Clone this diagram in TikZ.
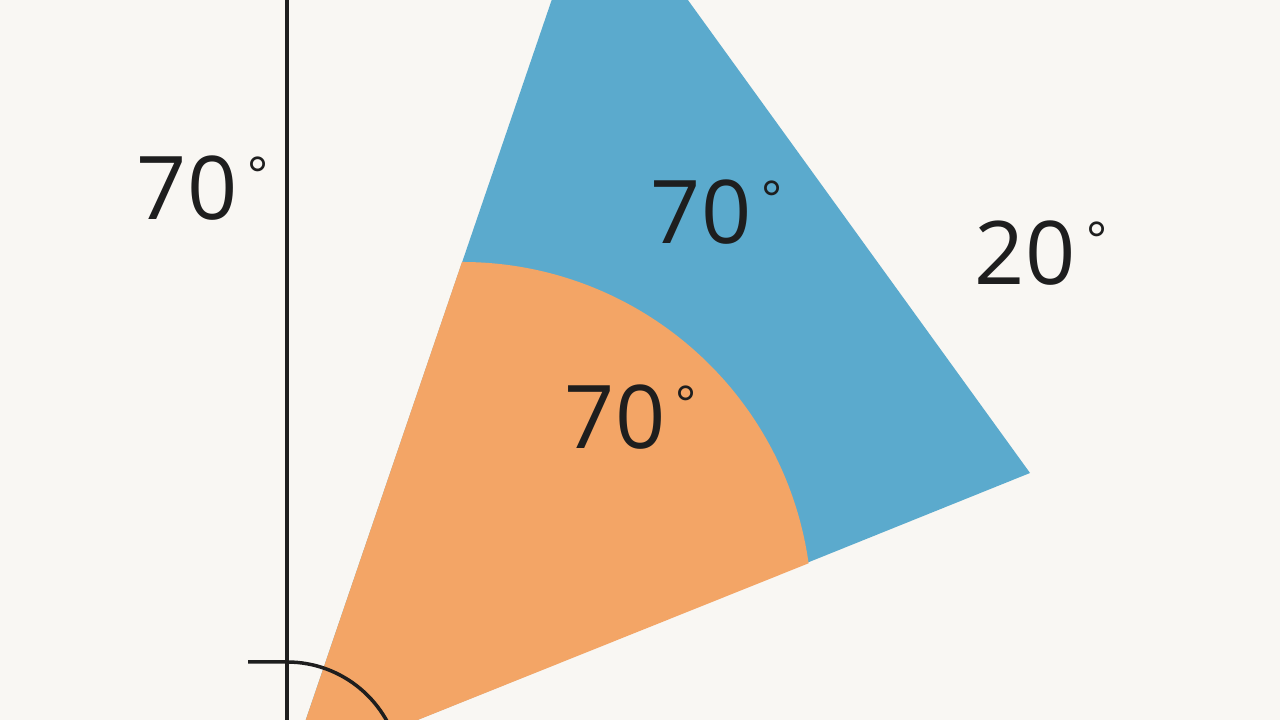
\documentclass[tikz,border=0pt]{standalone}
\usepackage{fontspec}
\setmainfont{Open Sans}
\usetikzlibrary{positioning}
\definecolor{bgcol}{HTML}{F9F7F3}
\definecolor{skyblue}{HTML}{5BAACD}
\definecolor{peach}{HTML}{F3A566}
\definecolor{ink}{HTML}{1E1E1E}
\newcommand{\dg}{\kern0.12em\raisebox{7.6pt}{\fontsize{14}{14}\selectfont °}}

\begin{document}
\begin{tikzpicture}[angle/.style={font=\fontsize{25}{30}\selectfont, text=ink, inner sep=0pt},
    rule/.style={ink, line width=1pt}]
\useasboundingbox (0,0) rectangle (12.8,7.2);
\clip (0,0) rectangle (12.8,7.2);
\fill[bgcol] (0,0) rectangle (12.8,7.2);
\coordinate (O) at (2.88,-0.52);
% blue wedge, then the orange sector on top
\fill[skyblue] (O) -- (10.30,2.47) -- (6.30,8) -- (5.79,8) -- cycle;
\fill[peach] (O) -- (4.62,4.58) arc[start angle=90, end angle=8, radius=3.5] -- cycle;
% vertical line and angle mark
\draw[rule] (2.87,-0.6) -- (2.87,7.3);
\draw[rule] (2.48,0.58) -- (2.87,0.58) arc[start angle=90, end angle=10, radius=1.14];
% labels
\node[angle] (left) at (2.03,5.32) {70\dg};
\node[angle] (upper) at (7.17,5.08) {70\dg};
\node[angle] (lower) at (6.31,3.03) {70\dg};
\node[angle] (right) at (10.41,4.67) {20\dg};
\end{tikzpicture}
\end{document}
